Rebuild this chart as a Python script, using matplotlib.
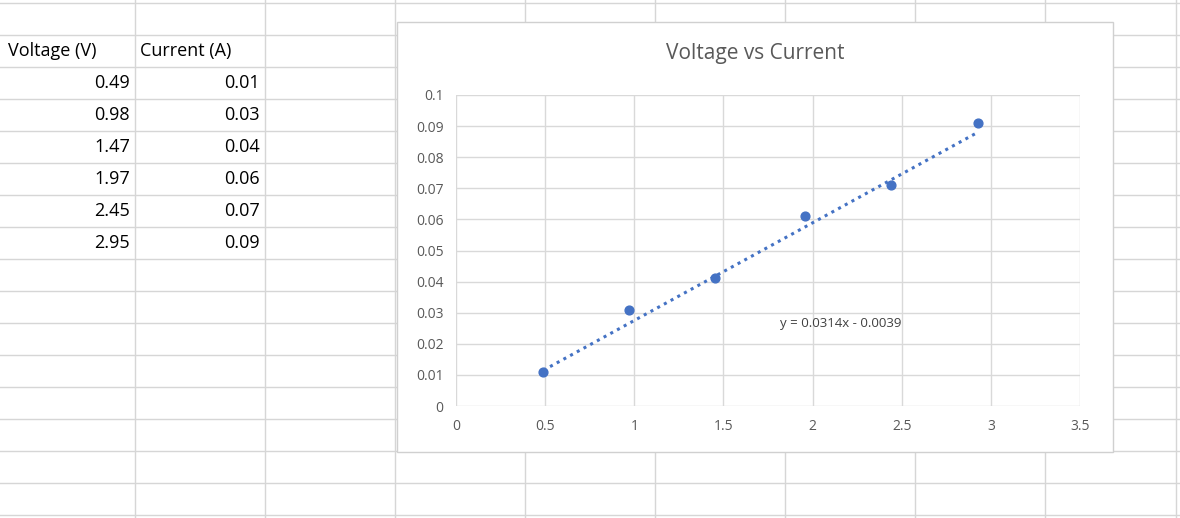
import matplotlib
matplotlib.use("Agg")
import matplotlib.pyplot as plt
import numpy as np
from matplotlib.patches import Rectangle

plt.rcParams['font.family'] = ['Open Sans', 'DejaVu Sans']

table_voltage = ["0.49", "0.98", "1.47", "1.97", "2.45", "2.95"]
table_current = ["0.01", "0.03", "0.04", "0.06", "0.07", "0.09"]
x_vals = [0.49, 0.97, 1.45, 1.96, 2.44, 2.93]
y_vals = [0.011, 0.031, 0.041, 0.061, 0.071, 0.091]
slope, intercept = 0.0314, -0.0039
x_ticks = [0, 0.5, 1, 1.5, 2, 2.5, 3, 3.5]
y_ticks = [0, 0.01, 0.02, 0.03, 0.04, 0.05, 0.06, 0.07, 0.08, 0.09, 0.1]

W, H = 1180, 518
fig = plt.figure(figsize=(W/100, H/100), dpi=100)
bg = fig.add_axes([0, 0, 1, 1])
bg.set_xlim(0, W); bg.set_ylim(H, 0); bg.axis('off')
gc = '#d6d6d6'
for y in range(3, H, 32):
    bg.plot([0, W], [y, y], color=gc, lw=1)
for x in [135, 265, 395, 525, 655, 785, 915, 1045, 1176]:
    bg.plot([x, x], [0, H], color=gc, lw=1)
fs = 13
bg.text(8, 51, "Voltage (V)", fontsize=fs, va='center', ha='left')
bg.text(140, 51, "Current (A)", fontsize=fs, va='center', ha='left')
for i, (v, c) in enumerate(zip(table_voltage, table_current)):
    yy = 83 + 32*i
    bg.text(130, yy, v, fontsize=fs, va='center', ha='right')
    bg.text(260, yy, c, fontsize=fs, va='center', ha='right')
bg.add_patch(Rectangle((397, 22), 716, 430, facecolor='white', edgecolor='#d0d0d0', lw=1, zorder=5))
bg.text(755, 53, "Voltage vs Current", fontsize=15, color='#595959', ha='center', va='center', zorder=6)

ax = fig.add_axes([456/W, (H-406)/H, 624/W, 311/H])
ax.set_facecolor('none')
ax.set_xlim(0, 3.5); ax.set_ylim(0, 0.1)
ax.set_xticks(x_ticks); ax.set_yticks(y_ticks)
ax.set_xticklabels([f"{t:g}" for t in x_ticks])
ax.set_yticklabels([f"{t:g}" for t in y_ticks])
ax.grid(True, color='#d9d9d9', lw=1)
ax.set_axisbelow(True)
for s in ax.spines.values():
    s.set_visible(False)
ax.tick_params(length=0, labelsize=10, colors='#595959', pad=9)
xs = np.array([min(x_vals), max(x_vals)])
ax.plot(xs, slope*xs + intercept, linestyle=(0, (1, 1.5)), color='#4472C4', lw=2.2)
ax.scatter(x_vals, y_vals, s=40, color='#4472C4', zorder=3)
ax.text(1.82, 0.0255, f"y = {slope}x - {abs(intercept)}", fontsize=9.5, color='#404040')
fig.savefig("out.png", dpi=100)
